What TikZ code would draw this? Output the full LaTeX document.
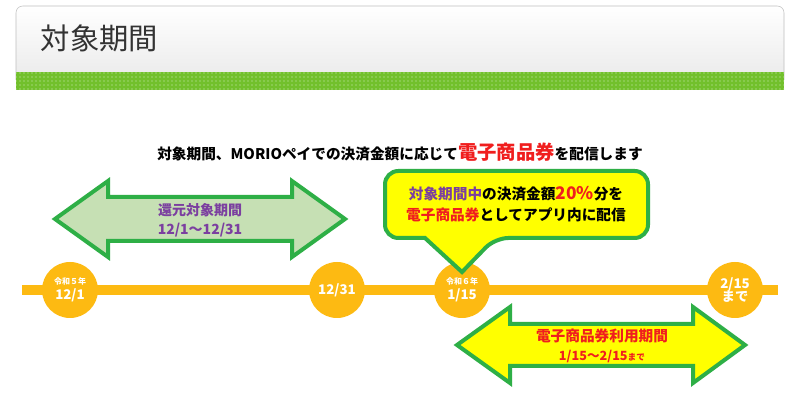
\documentclass[tikz,border=0pt]{standalone}
\usepackage{fontspec}
\setmainfont{Noto Sans CJK JP}
\usetikzlibrary{patterns}
\definecolor{hgreen}{HTML}{72C02C}
\definecolor{agreen}{HTML}{2EAF46}
\definecolor{lgreen}{HTML}{C6E0B4}
\definecolor{orng}{HTML}{FDBA12}
\definecolor{purp}{HTML}{7B3FA0}
\definecolor{rd}{HTML}{F01E1E}
\definecolor{yel}{HTML}{FFFF00}
\tikzset{
  dot/.style={circle,fill=orng,minimum size=42pt,inner sep=0pt,text=white,font=\bfseries,align=center},
  arrowshape/.style={draw=agreen,line width=3pt,line join=miter},
  lbl/.style={font=\bfseries,align=center,inner sep=0pt}
}
\begin{document}
\begin{tikzpicture}[x=0.75pt,y=-0.75pt]
\useasboundingbox (0,0) rectangle (800,413);
\fill[white] (0,0) rectangle (800,413);
% header
\shade[top color=white,bottom color=black!8,rounded corners=5pt] (16,6) rectangle (784,80);
\draw[black!25,rounded corners=5pt] (16,80) -- (16,6) -- (784,6) -- (784,80);
\fill[hgreen] (16,72) rectangle (784,90);
\fill[pattern=dots,pattern color=white!70!hgreen] (16,72) rectangle (784,90);
\node[anchor=west,font=\fontsize{22}{24}\selectfont,text=black!80] (title) at (36,38) {対象期間};
% subtitle
\node[lbl,font=\bfseries\fontsize{11}{13}\selectfont] (sub) at (400,152) {対象期間、MORIOペイでの決済金額に応じて{\color{rd}\fontsize{14.5}{16}\selectfont 電子商品券}を配信します};
% timeline
\coordinate (ls) at (22,290);
\coordinate (le) at (778,290);
\draw[orng,line width=7pt] (ls) -- (le);
\node[dot] (d1) at (70,290) {\fontsize{6}{7}\selectfont 令和５年\\[-1pt]\fontsize{10}{11}\selectfont 12/1};
\node[dot] (d2) at (337,290) {\fontsize{10}{11}\selectfont 12/31};
\node[dot] (d3) at (462,290) {\fontsize{6}{7}\selectfont 令和６年\\[-1pt]\fontsize{10}{11}\selectfont 1/15};
\node[dot] (d4) at (735,290) {\fontsize{10}{11}\selectfont 2/15\\[-2pt]まで};
% left arrow
\draw[arrowshape,fill=lgreen] (55,219) -- (108,181) -- (108,197) -- (292,197) -- (292,181) -- (345,219) -- (292,257) -- (292,241) -- (108,241) -- (108,257) -- cycle;
\node[lbl,text=purp,font=\bfseries\fontsize{10.5}{12}\selectfont] (ret) at (200,220) {還元対象期間\\[2pt]12/1〜12/31};
% callout
\draw[arrowshape,fill=yel,rounded corners=10pt] (385,171) -- (648,171) -- (648,238) -- (495,238) [sharp corners] -- (462,272) -- (425,238) [rounded corners=10pt] -- (385,238) -- cycle;
\node[lbl,font=\bfseries\fontsize{11}{13}\selectfont] (call) at (516,204) {{\color{purp}対象期間中}の決済金額{\color{rd}\fontsize{13}{14}\selectfont 20\%}分を\\[3pt]{\color{rd}電子商品券}としてアプリ内に配信};
% right arrow
\draw[arrowshape,fill=yel] (457,345) -- (510,307) -- (510,324) -- (693,324) -- (693,307) -- (745,345) -- (693,383) -- (693,366) -- (510,366) -- (510,383) -- cycle;
\node[lbl,text=rd,font=\bfseries\fontsize{11}{13}\selectfont] (use) at (602,346) {電子商品券利用期間\\[1pt]\fontsize{9.5}{11}\selectfont 1/15〜2/15{\fontsize{6.5}{7}\selectfont まで}};
\end{tikzpicture}
\end{document}
